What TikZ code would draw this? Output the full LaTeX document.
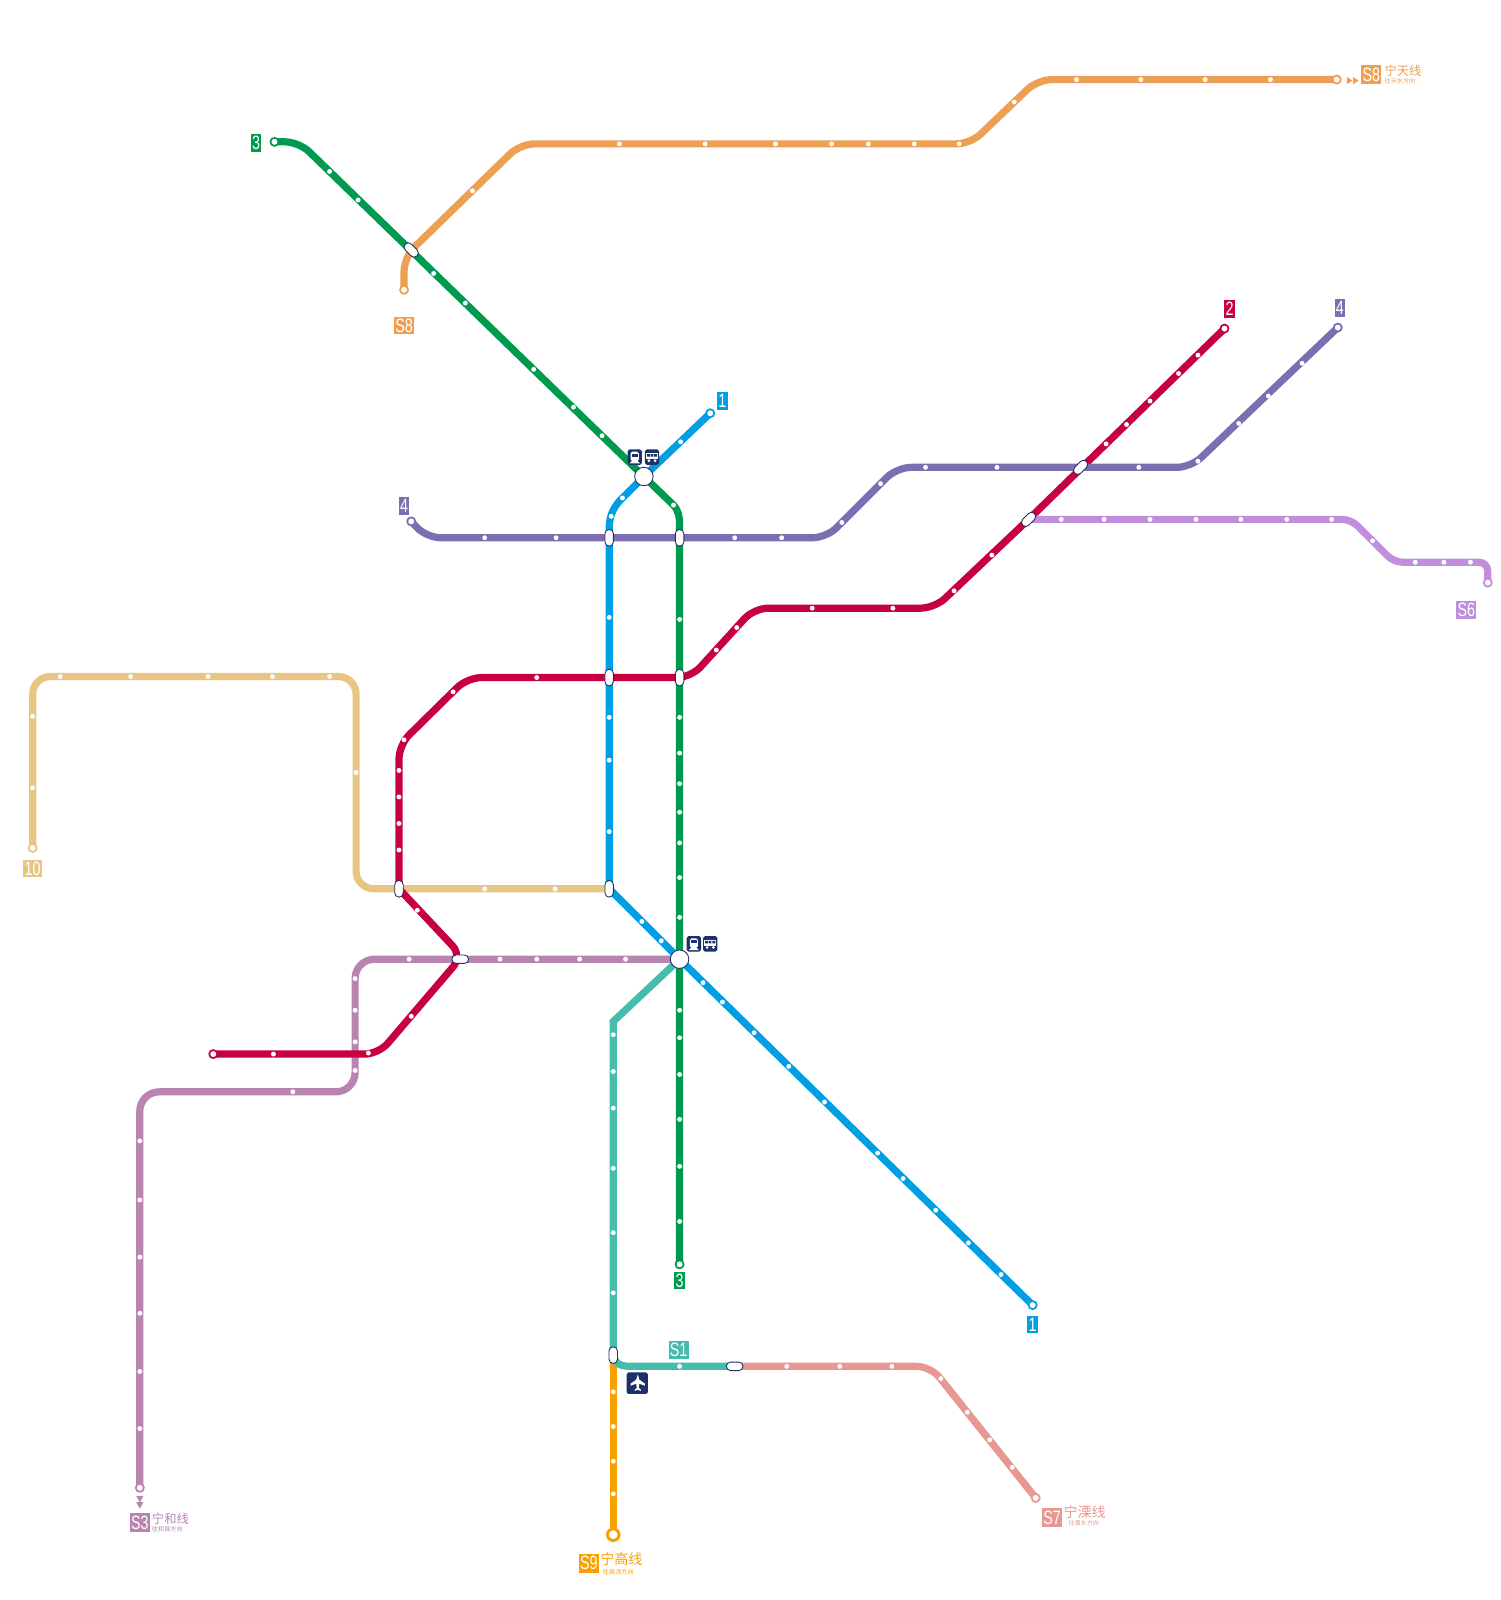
\documentclass[tikz,border=0pt]{standalone}
\usepackage{fontspec}
\setmainfont{Liberation Sans}
\newfontfamily\tagfont[FakeStretch=.74]{Liberation Sans}
\newfontfamily\cjk{Noto Sans CJK SC}
\usetikzlibrary{shapes.misc}
\definecolor{lineA}{HTML}{009FE3}
\definecolor{lineB}{HTML}{C7003F}
\definecolor{lineC}{HTML}{009A4E}
\definecolor{lineD}{HTML}{7C6EB1}
\definecolor{lineJ}{HTML}{E9C584}
\definecolor{lineSa}{HTML}{45BCAC}
\definecolor{lineSc}{HTML}{B985B0}
\definecolor{lineSf}{HTML}{C08EDB}
\definecolor{lineSg}{HTML}{E89792}
\definecolor{lineSh}{HTML}{ED9F52}
\definecolor{lineSi}{HTML}{F9A100}
\definecolor{navy}{HTML}{1B3168}
\tikzset{
  track/.style={line width=4.1pt},
  metro/.style={track,rounded corners=#1},
  metro/.default=8pt,
  tag/.style={text=white,inner xsep=.7pt,inner ysep=0pt,minimum height=10pt,font=\tagfont\fontsize{11}{11}\selectfont},
  linename/.style={font=\cjk\fontsize{7}{7}\selectfont,inner sep=0pt},
  towards/.style={font=\cjk\fontsize{3.5}{4}\selectfont,inner sep=0pt},
  xfer/.style={rounded rectangle,draw=navy,line width=.5pt,fill=white,minimum width=9.5pt,minimum height=4.8pt,inner sep=0pt},
  hub/.style={circle,draw=navy,line width=.5pt,fill=white,minimum size=10.5pt,inner sep=0pt},
  term/.style={circle,draw=#1,line width=1pt,fill=white,minimum size=4.6pt,inner sep=0pt},
  trainicon/.pic={
    \fill[navy,rounded corners=1pt] (-7,-7.5) rectangle (7,7.5);
    \fill[white,rounded corners=1pt] (-4,-5.5) rectangle (4,4);
    \fill[navy] (-3,-3.5) rectangle (3,-.5);
    \fill[white] (-5,6) -- (5,6) -- (3,4) -- (-3,4) -- cycle;
  },
  busicon/.pic={
    \fill[navy,rounded corners=1pt] (-7,-7.5) rectangle (7,7.5);
    \fill[white] (-6,-4) rectangle (6,2);
    \fill[navy] (-5,-3) rectangle (-2,-.5) (-1.2,-3) rectangle (1.2,-.5) (2,-3) rectangle (5,-.5);
    \fill[white] (-3,3.5) circle (1.5) (3,3.5) circle (1.5);
  }
}
\begin{document}
\begin{tikzpicture}[x=0.020408cm,y=-0.020408cm]
      \useasboundingbox (0,0) rectangle (1470,1568);
      % places where lines meet
      \coordinate (north) at (631,467);
      \coordinate (south) at (666,940);
      \coordinate (gulou) at (1008,509);
      \coordinate (xferT) at (451,940);
      \coordinate (xferR) at (391,871);
      \coordinate (xferU) at (597,871);
      \coordinate (xferV) at (601,1328);
      \coordinate (xferW) at (720,1339);
      % line ends
      \coordinate (endAn) at (696,405);
      \coordinate (endAs) at (1012,1279);
      \coordinate (endBn) at (1200,322);
      \coordinate (endBs) at (209,1033);
      \coordinate (endCn) at (269,139);
      \coordinate (endCs) at (666,1239);
      \coordinate (endDn) at (1311,321);
      \coordinate (endDw) at (403,511);
      \coordinate (endJ) at (32,831);
      \coordinate (endSc) at (137,1458);
      \coordinate (endSf) at (1458,571);
      \coordinate (endSg) at (1015,1468);
      \coordinate (endSh) at (1310,78);
      \coordinate (endShb) at (396,284);
      \coordinate (endSi) at (601,1504);
      % lines
      \draw[track,lineSi] (xferV)--(endSi);
      \draw[metro=10pt,lineJ] (endJ)--(32,663)--(349,663)--(349,871)--(xferU);
      \draw[metro=11pt,lineSc] (south)--(348,940)--(348,1070)--(137,1070)--(endSc);
      \draw[metro,lineB] (endBn)--(gulou)--(916,596)--(739,596)--(677,664)--(458,664)--(391,730)--(xferR);
      \draw[metro,lineB] (xferR)--(453,937)--(371,1033)--(endBs);
      \draw[metro,lineSh] (endShb)--(396,252)--(510,141)--(951,141)--(1017,78)--(endSh);
      \draw[metro,lineD] (endDw)--(418,527)--(810,527)--(879,458)--(1167,458)--(endDn);
      \draw[metro,lineC] (endCn)--(293,139)--(north);
      \draw[track,lineC] (north)--(660,495) .. controls (664,499) and (666,505) .. (666,515)--(endCs);
      \draw[track,lineA] (endAn)--(north)--(610,488) .. controls (603,495) and (597,503) .. (597,518)--(xferU);
      \draw[track,lineA] (xferU)--(south)--(endAs);
      \draw[track,lineSa] (south)--(601,1001)--(601,1322) .. controls (601,1335) and (605,1339) .. (618,1339)--(xferW);
      \draw[metro,lineSg] (xferW)--(912,1339)--(endSg);
      \draw[metro=5pt,lineSf] (gulou)--(1324,509)--(1366,551)--(1458,551)--(endSf);
      % stations
      \foreach \x/\y in {323/168,351/196,425/268,456/297,523/362,562/399,590/427,660/495,
        666/607,666/703,666/738,666/768,666/796,666/826,666/860,666/899,666/990,666/1017,666/1053,666/1097,666/1143,666/1197,
        667/433,610/488,599/506,597/605,597/703,597/745,597/815,629/903,648/922,689/963,708/982,739/1012,773/1045,808/1080,860/1130,885/1155,917/1186,949/1218,981/1249,
        475/527,545/527,720/527,766/527,825/512,863/474,907/458,977/458,1116/458,1174/452,1214/415,1243/388,1276/356,
        1174/348,1155/366,1127/393,1104/416,1084/435,972/544,935/579,875/596,796/596,722/615,702/637,526/664,444/678,396/725,391/755,391/781,391/807,391/833,409/892,403/996,361/1032,268/1033,
        463/187,607/141,691/141,760/141,815/141,851/141,896/141,940/141,994/100,1055/78,1118/78,1181/78,1245/78,
        32/772,32/702,59/663,128/663,204/663,267/663,323/663,349/757,475/871,544/871,
        613/940,568/940,526/940,490/940,401/940,348/959,348/990,348/1021,348/1049,287/1070,137/1118,137/1176,137/1232,137/1287,137/1344,137/1400,
        601/1014,601/1050,601/1086,601/1145,601/1208,601/1267,666/1339,
        601/1364,601/1398,601/1432,601/1464,
        771/1339,823/1339,874/1339,922/1351,948/1384,970/1411,992/1438,
        1040/509,1082/509,1127/509,1172/509,1216/509,1261/509,1305/509,1345/530,1387/551,1415/551,1441/551}
      \fill[white] (\x,\y) circle (2.4);
      % ends
      \node[term=lineA] (termAn) at (endAn) {};
      \node[term=lineA] (termAs) at (endAs) {};
      \node[term=lineB] (termBn) at (endBn) {};
      \node[term=lineB] (termBs) at (endBs) {};
      \node[term=lineC] (termCn) at (endCn) {};
      \node[term=lineC] (termCs) at (endCs) {};
      \node[term=lineD] (termDn) at (endDn) {};
      \node[term=lineD] (termDw) at (endDw) {};
      \node[term=lineJ] (termJ) at (endJ) {};
      \node[term=lineSc] (termSc) at (endSc) {};
      \node[term=lineSf] (termSf) at (endSf) {};
      \node[term=lineSg] (termSg) at (endSg) {};
      \node[term=lineSh] (termSh) at (endSh) {};
      \node[term=lineSh] (termShb) at (endShb) {};
      \node[term=lineSi,line width=1.7pt,minimum size=6.6pt] (termSi) at (endSi) {};
      % interchanges
      \foreach \x/\y in {597/527,666/527,597/664,666/664,391/871,597/871,601/1328}
      \node[xfer,rotate=90] (xfer\x-\y) at (\x,\y) {};
      \node[xfer] (xferTnode) at (xferT) {};
      \node[xfer] (xferWnode) at (xferW) {};
      \node[xfer,rotate=-45] (xferS) at (403,245) {};
      \node[xfer,rotate=45] (xferG) at (1059,458) {};
      \node[xfer,rotate=45] (gulouNode) at (gulou) {};
      \node[hub] (northNode) at (north) {};
      \node[hub] (southNode) at (south) {};
      % icons
      \pic at (622,448) {trainicon};
      \pic at (639,448) {busicon};
      \pic at (680,925) {trainicon};
      \pic at (696,925) {busicon};
      \fill[navy,rounded corners=1pt] (614,1345) rectangle (635,1366);
      \fill[white] (625,1347) -- (626.5,1352) -- (632,1356) -- (632,1358) -- (626.5,1356) -- (626,1360) -- (628,1362) -- (628,1363) -- (625,1362)
        -- (622,1363) -- (622,1362) -- (624,1360) -- (623.5,1356) -- (618,1358) -- (618,1356) -- (623.5,1352) -- cycle;
      % arrows on the ends
      \foreach \x in {1320,1326}
      \fill[lineSh] (\x,75.5)--(\x+5.5,79)--(\x,82.5)--cycle;
      \foreach \y in {1466,1472}
      \fill[lineSc] (133.5,\y)--(140.5,\y)--(137,\y+6.5)--cycle;
      % labels
      \node[tag,fill=lineC] (tagCn) at (251,140) {3};
      \node[tag,fill=lineC] (tagCs) at (666,1255) {3};
      \node[tag,fill=lineA] (tagAn) at (708,393) {1};
      \node[tag,fill=lineA] (tagAs) at (1012,1298) {1};
      \node[tag,fill=lineB] (tagB) at (1205,303) {2};
      \node[tag,fill=lineD] (tagDw) at (396,496) {4};
      \node[tag,fill=lineD] (tagDn) at (1313,302) {4};
      \node[tag,fill=lineJ] (tagJ) at (32,851) {10};
      \node[tag,fill=lineSh] (tagShb) at (396,319) {S8};
      \node[tag,fill=lineSf] (tagSf) at (1437,598) {S6};
      \node[tag,fill=lineSa] (tagSa) at (665,1323) {S1};
      \node[tag,fill=lineSh,minimum height=11pt] (tagSh) at (1344,73) {S8};
      \node[linename,text=lineSh] (nameSh) at (1375,69.5) {宁天线};
      \node[towards,text=lineSh] (towardSh) at (1372,80) {往天水方向};
      \node[tag,fill=lineSc,minimum height=11pt] (tagSc) at (137,1492) {S3};
      \node[linename,text=lineSc] (nameSc) at (167,1488.5) {宁和线};
      \node[towards,text=lineSc] (towardSc) at (164,1499) {往和县方向};
      \node[tag,fill=lineSg,minimum height=11pt] (tagSg) at (1031,1487) {S7};
      \node[linename,text=lineSg,font=\cjk\fontsize{8}{8}\selectfont] (nameSg) at (1063,1481.5) {宁溧线};
      \node[towards,text=lineSg] (towardSg) at (1062,1493) {往溧水方向};
      \node[tag,fill=lineSi,minimum height=11pt] (tagSi) at (577,1532) {S9};
      \node[linename,text=lineSi,font=\cjk\fontsize{8}{8}\selectfont] (nameSi) at (609,1527.5) {宁高线};
      \node[towards,text=lineSi] (towardSi) at (606,1541) {往高淳方向};
    \end{tikzpicture}
\end{document}
